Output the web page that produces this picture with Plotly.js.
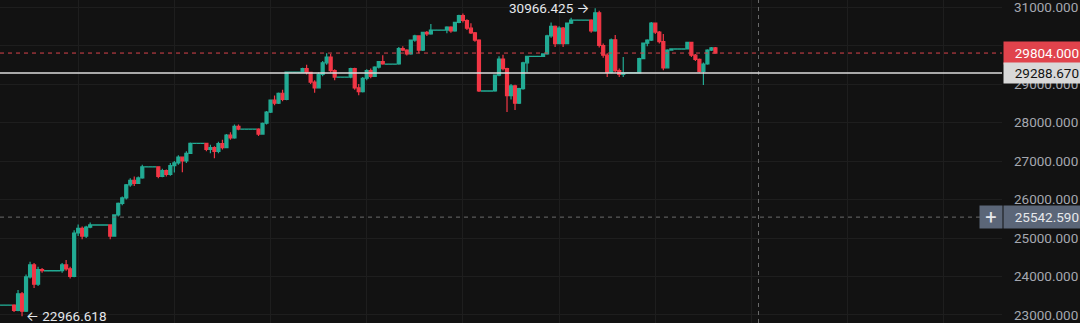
<!DOCTYPE html>
<html>
<head>
<meta charset="utf-8">
<script src="https://cdn.plot.ly/plotly-3.0.1.min.js"></script>
<style>
html,body{margin:0;padding:0;background:#121212;}
#chart{width:1080px;height:323px;}
</style>
</head>
<body>
<div id="chart"></div>
<script>
// ---- data ----
const openP = [
23256,23256,23256,23260,23120,23550,23100,23990,24300,23800,
24180,24146,24146,24146,24146,24150,24300,24200,24000,25130,
25250,25050,25280,25336,25336,25336,25336,25340,25050,25600,
25900,26040,26380,26500,26420,26560,26846,26846,26846,26850,
26600,26750,26650,26880,26950,27100,27000,27200,27456,27456,
27456,27460,27300,27350,27250,27450,27350,27670,27600,27900,
27826,27826,27826,27826,27830,27700,27980,28270,28580,28500,
28760,28600,29306,29306,29306,29310,29400,29300,29050,28900,
29250,29550,29700,29350,29176,29176,29176,29180,29400,28900,
28800,29150,29350,29200,29440,29580,29516,29516,29516,29520,
29920,29880,29780,30140,30250,29880,30340,30300,30396,30396,
30396,30400,30480,30380,30600,30780,30650,30450,30330,30140,
28816,28816,28816,28820,29230,29650,29400,28700,28950,28500,
28880,29550,29716,29716,29716,29720,29780,30250,30500,30050,
30450,30050,30580,30656,30656,30656,30656,30660,30380,30850,
30000,29750,29300,30150,29350,29250,29286,29286,29286,29290,
29660,30060,30140,30580,30350,30100,29420,29880,29906,29906,
29906,29910,30080,29750,29640,29330,29520,29880,29940
];
const highP = [
23260,23260,23260,23280,23650,23600,24050,24380,24350,24250,
24220,24150,24150,24150,24150,24350,24430,24250,25200,25350,
25300,25320,25400,25340,25340,25340,25340,25360,25620,25920,
26080,26400,26550,26600,26600,26900,26850,26850,26850,26860,
26800,26780,26950,27000,27150,27120,27250,27480,27460,27460,
27460,27470,27420,27380,27500,27550,27700,27750,27950,27950,
27830,27830,27830,27830,27850,28000,28300,28600,28700,28780,
28850,29320,29310,29310,29310,29420,29500,29320,29100,29300,
29600,29800,29780,29380,29180,29180,29180,29420,29420,29000,
29180,29380,29400,29460,29600,29750,29520,29520,29520,29960,
29980,29900,30150,30280,30260,30360,30380,30560,30400,30400,
30400,30500,30500,30620,30800,30830,30680,30580,30350,30160,
28820,28820,28820,29250,29720,29760,29420,29000,28980,28900,
29580,29720,29720,29720,29720,29800,30280,30600,30520,30500,
30480,30600,30720,30660,30660,30660,30660,30680,30966.425,30900,
30050,29800,30180,30270,29400,29700,29290,29290,29290,29680,
30080,30160,30610,30600,30380,30300,29900,29920,29910,29910,
29910,30100,30100,29780,29660,29560,29900,29960,29960
];
const lowP = [
23256,23256,23256,23080,23100,22966.618,23080,23950,23700,23750,
24100,24146,24146,24146,24146,24100,24150,23950,23980,25050,
24970,25000,25250,25336,25336,25336,25336,24970,25030,25560,
25850,26000,26330,26350,26400,26540,26846,26846,26846,26550,
26580,26600,26620,26700,26900,26710,26950,27180,27456,27456,
27456,27250,27200,27070,27200,27300,27330,27550,27580,27800,
27826,27826,27826,27826,27650,27680,27950,28250,28450,28480,
28550,28580,29306,29306,29306,29290,29250,29000,28770,28880,
29200,29500,29300,29100,29176,29176,29176,29150,28850,28710,
28780,29100,29150,29180,29400,29500,29516,29516,29516,29500,
29850,29740,29760,30100,29800,29860,30250,30280,30396,30396,
30396,30320,30330,30360,30580,30600,30400,30300,30100,28790,
28816,28816,28816,28800,29200,29350,28272,28600,28324,28480,
28850,29300,29716,29716,29716,29700,29760,30200,29960,30030,
29960,30030,30560,30656,30656,30656,30656,30330,30360,29950,
29680,29180,29280,29300,29180,29180,29286,29286,29286,29270,
29640,29980,30120,30300,30050,29360,29400,29870,29906,29906,
29906,29900,29700,29600,29300,28973,29500,29860,29790
];
const closeP = [
23260,23260,23260,23120,23550,23100,23990,24300,23800,24180,
24150,24150,24150,24150,24150,24300,24200,24000,25130,25250,
25050,25280,25340,25340,25340,25340,25340,25050,25600,25900,
26040,26380,26500,26420,26560,26850,26850,26850,26850,26600,
26750,26650,26880,26950,27100,27000,27200,27460,27460,27460,
27460,27300,27350,27250,27450,27350,27670,27600,27900,27830,
27830,27830,27830,27830,27700,27980,28270,28580,28500,28760,
28600,29310,29310,29310,29310,29400,29300,29050,28900,29250,
29550,29700,29350,29180,29180,29180,29180,29400,28900,28800,
29150,29350,29200,29440,29580,29520,29520,29520,29520,29920,
29880,29780,30140,30250,29880,30340,30300,30400,30400,30400,
30400,30480,30380,30600,30780,30650,30450,30330,30140,28820,
28820,28820,28820,29230,29650,29400,28700,28950,28500,28880,
29550,29720,29720,29720,29720,29780,30250,30500,30050,30450,
30050,30580,30660,30660,30660,30660,30660,30380,30850,30000,
29750,29300,30150,29350,29250,29290,29290,29290,29290,29660,
30060,30140,30580,30350,30100,29420,29880,29910,29910,29910,
29910,30080,29750,29640,29330,29520,29880,29940,29804
];
const priceTicks = [23000,24000,25000,26000,27000,28000,29000,30000,31000];
const timeGrid = [19,43,67,91,115,139,163,187,211,235];
const lastPrice = 29804.000;
const refLine = 29288.670;
const crossPrice = 25542.590;
const crossX = 188.75;
const lowIdx = 5, lowVal = 22966.618;
const highIdx = 148, highVal = 30966.425;

const idx = closeP.map((_, i) => i);

const UP = '#22ab94', DN = '#f23645';
const FONT = 'Roboto, Inter, "Noto Sans", sans-serif';

const trace = {
  type: 'candlestick',
  x: idx, open: openP, high: highP, low: lowP, close: closeP,
  increasing: {line: {color: UP, width: 1.2}, fillcolor: UP},
  decreasing: {line: {color: DN, width: 1.2}, fillcolor: DN},
  whiskerwidth: 0,
  hoverinfo: 'skip'
};

const fmt = v => v.toFixed(3);
// the 30000 label sits under the last-price box in the reference
const tickText = priceTicks.map(v => (v === 30000 ? '' : fmt(v)));

const layout = {
  width: 1080, height: 323,
  margin: {l: 0, r: 78, t: 0, b: 0},
  paper_bgcolor: '#121212',
  plot_bgcolor: '#121212',
  showlegend: false,
  boxgap: 0.25,
  boxgroupgap: 0,
  font: {family: FONT, color: '#b2b5be', size: 13.5},
  xaxis: {
    range: [-0.5, 249.5],
    rangeslider: {visible: false},
    showticklabels: false,
    ticks: '',
    tickmode: 'array',
    tickvals: timeGrid,
    showgrid: true,
    gridcolor: '#1e1e1e',
    zeroline: false,
    showline: false,
    fixedrange: true
  },
  yaxis: {
    side: 'right',
    range: [22792, 31182],
    tickmode: 'array',
    tickvals: priceTicks,
    ticktext: tickText,
    ticks: '',
    ticklabelstandoff: 11,
    ticklabeloverflow: 'allow',
    tickfont: {family: FONT, size: 13.5, color: '#a5a8b0'},
    showgrid: true,
    gridcolor: '#1e1e1e',
    zeroline: false,
    showline: false,
    fixedrange: true
  },
  shapes: [
    {type: 'line', xref: 'x', yref: 'paper', x0: crossX, x1: crossX, y0: 0, y1: 1,
     line: {color: '#6a6a6a', width: 1, dash: '4px,4px'}},
    {type: 'line', xref: 'paper', yref: 'y', x0: 0, x1: 0.98, y0: crossPrice, y1: crossPrice,
     line: {color: '#6a6a6a', width: 1, dash: '4px,4px'}},
    {type: 'line', xref: 'paper', yref: 'y', x0: 0, x1: 1, y0: refLine, y1: refLine,
     line: {color: '#dcdcdc', width: 1.5}},
    {type: 'line', xref: 'paper', yref: 'y', x0: 0, x1: 1, y0: lastPrice, y1: lastPrice,
     line: {color: '#d9434c', width: 1, dash: '4px,4px'}}
  ],
  annotations: [
    {xref: 'paper', yref: 'y', x: 1, y: lastPrice, xanchor: 'left', yanchor: 'middle',
     xshift: 1, text: fmt(lastPrice), showarrow: false, align: 'right',
     width: 73, height: 18, borderpad: 2, bgcolor: '#e0434c',
     font: {family: FONT, size: 13.5, color: '#ffffff'}},
    {xref: 'paper', yref: 'y', x: 1, y: refLine, xanchor: 'left', yanchor: 'middle',
     xshift: 1, text: fmt(refLine), showarrow: false, align: 'right',
     width: 73, height: 16, borderpad: 2, bgcolor: '#d9d9d9',
     font: {family: FONT, size: 13.5, color: '#131313'}},
    {xref: 'paper', yref: 'y', x: 1, y: crossPrice, xanchor: 'left', yanchor: 'middle',
     xshift: 1, text: fmt(crossPrice), showarrow: false, align: 'right',
     width: 73, height: 18, borderpad: 2, bgcolor: '#5b6678',
     font: {family: FONT, size: 13.5, color: '#e6e8ec'}},
    {xref: 'paper', yref: 'y', x: 1, y: crossPrice, xanchor: 'right', yanchor: 'middle',
     xshift: 1, text: '+', showarrow: false, align: 'center',
     width: 18, height: 18, borderpad: 2, bgcolor: '#5b6678',
     font: {family: FONT, size: 20, color: '#e6e8ec'}},
    {xref: 'x', yref: 'y', x: lowIdx, y: lowVal, xanchor: 'left', yanchor: 'middle',
     xshift: 2, text: '← ' + fmt(lowVal), showarrow: false,
     font: {family: FONT, size: 13.5, color: '#e6e8ec'}},
    {xref: 'x', yref: 'y', x: highIdx, y: highVal, xanchor: 'right', yanchor: 'middle',
     xshift: -3, text: fmt(highVal) + ' →', showarrow: false,
     font: {family: FONT, size: 13.5, color: '#e6e8ec'}}
  ]
};

Plotly.newPlot('chart', [trace], layout, {staticPlot: true, displayModeBar: false});
</script>
</body>
</html>
